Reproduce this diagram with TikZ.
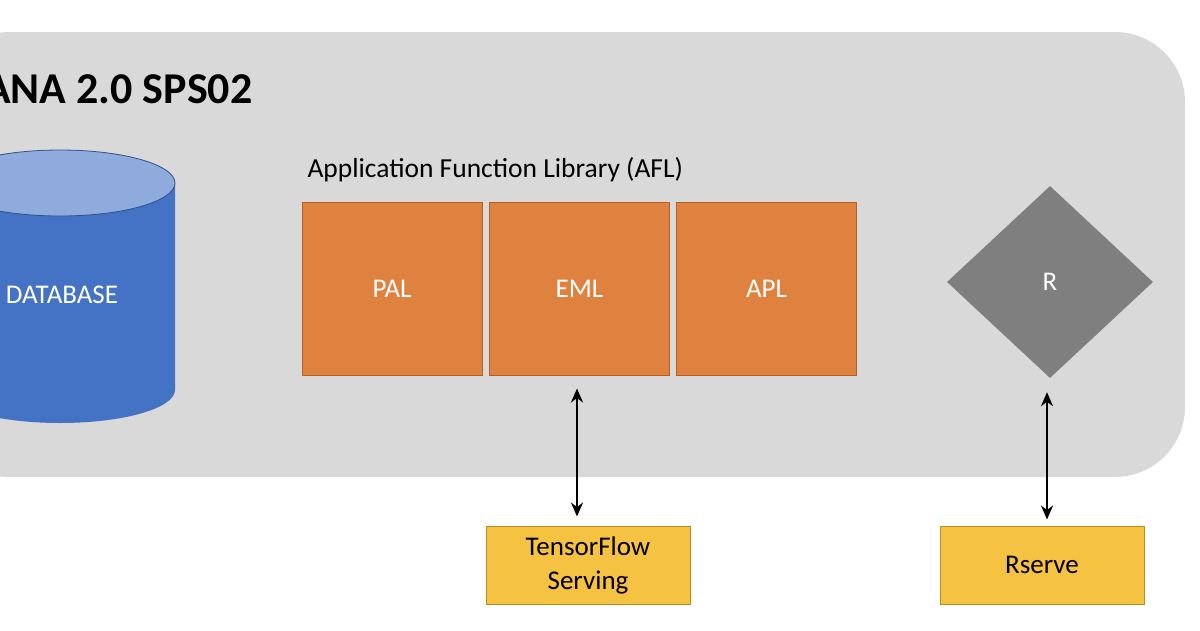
\documentclass[tikz,border=0pt]{standalone}
\usepackage{fontspec}
\setmainfont{Carlito}
\usetikzlibrary{shapes.geometric,arrows.meta}
\definecolor{panelgray}{HTML}{D9D9D9}
\definecolor{dbblue}{HTML}{4472C4}
\definecolor{dbtop}{HTML}{8FAADC}
\definecolor{aflorange}{HTML}{E0823F}
\definecolor{aflborder}{HTML}{B65F24}
\definecolor{srvyellow}{HTML}{F5C242}
\definecolor{srvborder}{HTML}{BC8C1C}
\definecolor{rgray}{HTML}{7F7F7F}
\tikzset{
  afl/.style={draw=aflborder,line width=1pt,fill=aflorange,minimum width=180pt,minimum height=173pt,
    text=white,font=\fontsize{27pt}{27pt}\selectfont,inner sep=0pt},
  serve/.style={draw=srvborder,line width=1pt,fill=srvyellow,minimum width=204pt,minimum height=78pt,
    align=center,font=\fontsize{27pt}{34pt}\selectfont,inner sep=0pt},
  link/.style={{Stealth[length=14pt,width=12pt]}-{Stealth[length=14pt,width=12pt]},line width=2.5pt}
}
\begin{document}
\begin{tikzpicture}[x=1pt,y=-1pt]
            \useasboundingbox (0,0) rectangle (1200,630);
            \clip (0,0) rectangle (1200,630);
            % background panel
            \fill [panelgray,rounded corners=70pt] (-60,32) rectangle (1185,477);
            \node [anchor=base east,font=\bfseries\fontsize{44pt}{44pt}\selectfont] (title) at (256,103) {HANA 2.0 SPS02};
            % database cylinder
            \fill [dbblue] (-55,183) -- (-55,390) arc [start angle=180,end angle=0,x radius=115,y radius=33] -- (175,183) -- cycle;
            \fill [dbtop] (60,183) ellipse [x radius=115,y radius=33];
            \draw [dbblue!70!black,line width=0.8pt] (60,183) ellipse [x radius=115,y radius=33];
            \node [text=white,font=\fontsize{27pt}{27pt}\selectfont] (db) at (62,295) {DATABASE};
            % AFL
            \node [anchor=west,font=\fontsize{27.5pt}{27pt}\selectfont] (afltitle) at (304,170) {Application Function Library (AFL)};
            \node [afl] (pal) at (392,288.5) {PAL};
            \node [afl] (eml) at (579.5,288.5) {EML};
            \node [afl] (apl) at (766.5,288.5) {APL};
            % R
            \node [diamond,fill=rgray,aspect=1.07,minimum width=206pt,minimum height=192pt,inner sep=0pt,
              text=white,font=\fontsize{27pt}{27pt}\selectfont] (r) at (1050,282) {R};
            % servers
            \node [serve] (tf) at (588,565) {TensorFlow\\Serving};
            \node [serve] (rs) at (1042,565) {Rserve};
            \draw [link,shorten <=13pt,shorten >=9pt] (eml.south -| 577,0) -- (tf.north -| 577,0);
            \draw [link,shorten <=14pt,shorten >=6pt] (r.south -| 1047,0) -- (rs.north -| 1047,0);
\end{tikzpicture}
\end{document}
